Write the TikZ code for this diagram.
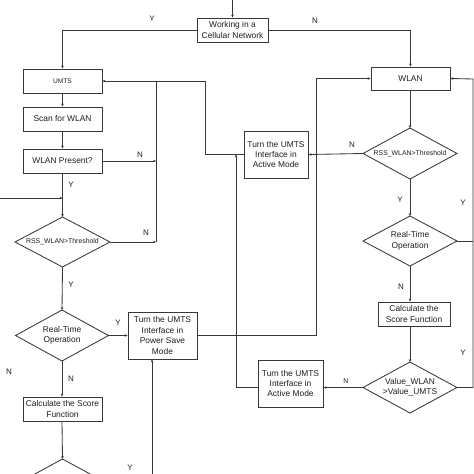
\documentclass[tikz,border=0pt]{standalone}
\usepackage{fontspec}
\setmainfont{Liberation Sans}
\usetikzlibrary{arrows.meta,calc}
\definecolor{ln}{gray}{0.22}
\definecolor{tx}{gray}{0.12}
\tikzset{
  box/.style={draw=ln,line width=0.85pt,fill=white,rectangle,inner sep=1pt,align=center,text=tx,font=\fontsize{8.4bp}{10.4bp}\selectfont},
  diashape/.style={draw=ln,line width=0.85pt,fill=white},
  diatext/.style={text=tx,align=center,font=\fontsize{8.4bp}{10.4bp}\selectfont,inner sep=0pt},
  smalltext/.style={text=tx,font=\fontsize{6.9bp}{8bp}\selectfont,inner sep=0pt},
  conn/.style={draw=ln,line width=0.85pt},
  arr/.style={conn,-{Stealth[length=3bp,width=2.6bp]}},
  lbl/.style={text=tx,font=\fontsize{8bp}{9bp}\selectfont,inner sep=0pt}
}
\begin{document}
\begin{tikzpicture}[x=1bp,y=-1bp]
\useasboundingbox (0,0) rectangle (474,474);
% boxes
\node[box,minimum width=71bp,minimum height=24bp] (work) at (232.5,30) {Working in a\\Cellular Network};
\node[box,minimum width=79bp,minimum height=24bp,font=\fontsize{6.6bp}{8bp}\selectfont] (umts) at (62.5,81) {UMTS};
\node[box,minimum width=79bp,minimum height=24bp] (scan) at (62.5,119) {Scan for WLAN};
\node[box,minimum width=79bp,minimum height=24bp] (present) at (62.5,161) {WLAN Present?};
\node[box,minimum width=79bp,minimum height=24bp] (calcL) at (62.5,409) {Calculate the Score\\Function};
\node[box,minimum width=69bp,minimum height=47bp] (psave) at (162.5,335.5) {Turn the UMTS\\Interface in\\Power Save\\Mode};
\node[box,minimum width=64bp,minimum height=47bp] (act1) at (276,154.5) {Turn the UMTS\\Interface in\\Active Mode};
\node[box,minimum width=65bp,minimum height=47bp] (act2) at (290.5,383.5) {Turn the UMTS\\Interface in\\Active Mode};
\node[box,minimum width=79bp,minimum height=23bp] (wlan) at (410.5,78.5) {WLAN};
\node[box,minimum width=72bp,minimum height=24bp] (calcR) at (414,314) {Calculate the\\Score Function};
% diamonds: drawn as explicit polygons with named corner coordinates
\coordinate (rssL) at (62.5,242);
\coordinate (rtL) at (62,335.5);
\coordinate (botL) at (62.5,484.5);
\coordinate (rssR) at (410,153.5);
\coordinate (rtR) at (410,241);
\coordinate (vwl) at (410,387.5);
\foreach \c/\w/\h in {rssL/95/50, rtL/93/51, botL/94/51, rssR/94/51, rtR/94/50, vwl/94/51}{
  \path[diashape] ($(\c)+(-\w/2,0)$) coordinate (\c-w) -- ($(\c)+(0,-\h/2)$) coordinate (\c-n) -- ($(\c)+(\w/2,0)$) coordinate (\c-e) -- ($(\c)+(0,\h/2)$) coordinate (\c-s) -- cycle;
}
\node[smalltext] (rssLt) at (rssL) {RSS\_WLAN>Threshold};
\node[smalltext] (rssRt) at (rssR) {RSS\_WLAN>Threshold};
\node[diatext] (rtLt) at (rtL) {Real-Time\\Operation};
\node[diatext] (rtRt) at (rtR) {Real-Time\\Operation};
\node[diatext] (vwlt) at (vwl) {Value\_WLAN\\>Value\_UMTS};
% free ends and bends
\coordinate (top) at (232.5,0);
\coordinate (inL) at (0,198);
\coordinate (jn) at (156,81);
\coordinate (jL) at (205,81);
\coordinate (jA) at (236,154.5);
\coordinate (bus) at (473,79);
\coordinate (ps) at (316,335.5);
\coordinate (psw) at (316,78.5);
\coordinate (bot) at (152,480);
% connectors
\draw[arr] (top) -- (work.north);
\draw[arr] (work.west) -| (umts.north);
\draw[arr] (work.east) -| (wlan.north);
\draw[arr] (umts.south) -- (scan.north);
\draw[arr] (scan.south) -- (present.north);
\draw[arr] (present.south) -- (rssL-n);
\draw[arr] (inL) -- (inL -| present.south);
\draw[arr] (present.east) -- (present.east -| jn);
\draw[arr] (rssL-e) -- (rssL-e -| jn);
\draw[conn] (jn) -- (jn |- rssL-e);
\draw[arr] (act1.west) -| (jL) -- (umts.east);
\draw[arr] (act2.west |- vwl-w) -| (jA);
\draw[arr] (rssR-w) -- (act1.east);
\draw[arr] (wlan.south -| rssR-n) -- (rssR-n);
\draw[arr] (rssR-s) -- (rtR-n);
\draw[arr] (rtR-s) -- (rtR-s |- calcR.north);
\draw[arr] (rtR-s |- calcR.south) -- (vwl-n);
\draw[arr] (vwl-w) -- (vwl-w -| act2.east);
\draw[conn] (rtR-e) -- (rtR-e -| bus);
\draw[arr] (vwl-e) -| (bus) -- (wlan.east);
\draw[arr] (rssL-s) -- (rtL-n);
\draw[arr] (rtL-e) -- (psave.west);
\draw[arr] (psave.east) -- (ps) -- (psw) -- (wlan.west);
\draw[arr] (rtL-s) -- (rtL-s |- calcL.north);
\draw[arr] (rtL-s |- calcL.south) -- (botL-n);
\draw[arr] (bot) -- (bot |- psave.south);
% labels
\node[lbl] (l1) at (152,19) {Y};
\node[lbl] (l2) at (315,21) {N};
\node[lbl] (l3) at (71,185) {Y};
\node[lbl] (l4) at (140,155) {N};
\node[lbl] (l5) at (146,233) {N};
\node[lbl] (l6) at (352,145) {N};
\node[lbl] (l7) at (400,200) {Y};
\node[lbl] (l8) at (463,203) {Y};
\node[lbl] (l9) at (401,287) {N};
\node[lbl] (l10) at (463,353) {Y};
\node[lbl,font=\fontsize{7bp}{8bp}\selectfont] (l11) at (346,381) {N};
\node[lbl] (l12) at (71,285) {Y};
\node[lbl] (l13) at (118,323) {Y};
\node[lbl] (l14) at (71,379) {N};
\node[lbl] (l15) at (9,372) {N};
\node[lbl] (l16) at (130,468) {Y};
\end{tikzpicture}
\end{document}
